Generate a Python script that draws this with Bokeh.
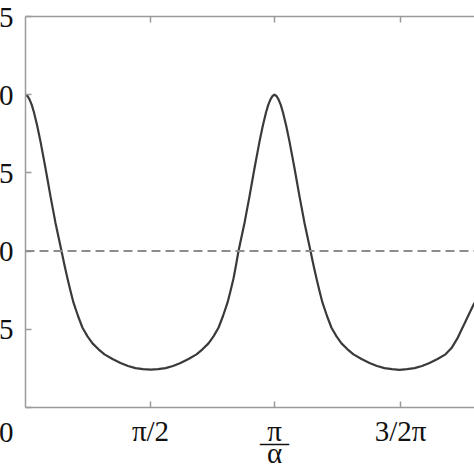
from bokeh.plotting import figure
from bokeh.models import LinearAxis, FixedTicker, Span, Range1d
from bokeh.embed import file_html
from bokeh.resources import INLINE

# curve (x in units of pi)
x_pi = [0.000, 0.008, 0.016, 0.025, 0.034, 0.047, 0.060, 0.070, 0.080, 0.090,
        0.100, 0.110, 0.120, 0.132, 0.144, 0.156, 0.168, 0.180, 0.192, 0.210,
        0.228, 0.248, 0.268, 0.292, 0.316, 0.348, 0.380, 0.410, 0.440, 0.470,
        0.500, 0.530, 0.560, 0.590, 0.620, 0.652, 0.684, 0.708, 0.732, 0.752,
        0.772, 0.790, 0.808, 0.820, 0.832, 0.842, 0.852, 0.864, 0.876, 0.886,
        0.896, 0.906, 0.916, 0.926, 0.936, 0.949, 0.962, 0.971, 0.980, 0.988,
        0.996, 1.004, 1.012, 1.021, 1.030, 1.043, 1.056, 1.066, 1.076, 1.086,
        1.096, 1.106, 1.116, 1.128, 1.140, 1.152, 1.164, 1.176, 1.188, 1.206,
        1.224, 1.244, 1.264, 1.288, 1.312, 1.344, 1.376, 1.406, 1.436, 1.466,
        1.496, 1.526, 1.556, 1.586, 1.616, 1.648, 1.680, 1.704, 1.727, 1.745,
        1.760, 1.778, 1.796]
y_val = [1.000, 0.992, 0.970, 0.935, 0.886, 0.800, 0.700, 0.615, 0.530, 0.440,
         0.350, 0.265, 0.180, 0.090, 0.000, -0.090, -0.175, -0.255, -0.330, -0.415,
         -0.490, -0.545, -0.590, -0.628, -0.660, -0.690, -0.715, -0.735, -0.748, -0.755,
         -0.758, -0.755, -0.748, -0.735, -0.715, -0.690, -0.660, -0.628, -0.590, -0.545,
         -0.490, -0.415, -0.330, -0.255, -0.175, -0.090, 0.000, 0.090, 0.180, 0.265,
         0.350, 0.440, 0.530, 0.615, 0.700, 0.800, 0.886, 0.935, 0.970, 0.992,
         1.000, 0.992, 0.970, 0.935, 0.886, 0.800, 0.700, 0.615, 0.530, 0.440,
         0.350, 0.265, 0.180, 0.090, 0.000, -0.090, -0.175, -0.255, -0.330, -0.415,
         -0.490, -0.545, -0.590, -0.628, -0.660, -0.690, -0.715, -0.735, -0.748, -0.755,
         -0.760, -0.755, -0.748, -0.735, -0.715, -0.690, -0.660, -0.620, -0.560, -0.500,
         -0.450, -0.390, -0.330]

x_ticks = [0.5, 0.996, 1.5]
x_tick_labels = {0.5: "π/2", 0.996: "π\n—\nα", 1.5: "3/2π"}
y_ticks = [-1.0, -0.5, 0.0, 0.5, 1.0, 1.5]
y_tick_labels = {-1.0: "\n\n-1.0", -0.5: "-0.5", 0.0: "0.0", 0.5: "0.5", 1.0: "1.0", 1.5: "1.5\n"}
x_min, x_max = 0.0, 1.796
y_min, y_max = -1.0, 1.5

FONT = "Liberation Serif"
FS = "29px"
AX = "#9a9a9a"

p = figure(width=519, height=474, x_range=Range1d(x_min, x_max), y_range=Range1d(y_min, y_max),
           output_backend="svg", toolbar_location=None, x_axis_type=None, y_axis_type=None,
           min_border_left=70, min_border_right=0, min_border_top=16, min_border_bottom=67)
p.margin = (0, 0, 0, -45)
p.outline_line_color = None
p.xgrid.visible = False
p.ygrid.visible = False
p.background_fill_color = "white"
p.border_fill_color = "white"

def style_axis(ax, standoff, show_labels=True):
    ax.axis_line_color = AX
    ax.axis_line_width = 1.5
    ax.major_tick_line_color = AX
    ax.major_tick_line_width = 1.5
    ax.major_tick_in = 6
    ax.major_tick_out = 0
    ax.minor_tick_line_color = None
    ax.major_label_text_font = FONT
    ax.major_label_text_font_size = FS if show_labels else "1px"
    ax.major_label_text_color = "#111111" if show_labels else None
    ax.major_label_standoff = standoff

xaxis = LinearAxis(ticker=FixedTicker(ticks=x_ticks), major_label_overrides=x_tick_labels)
style_axis(xaxis, 7)
xaxis.major_label_text_line_height = 0.35
p.add_layout(xaxis, "below")

taxis = LinearAxis(ticker=FixedTicker(ticks=x_ticks))
style_axis(taxis, 0, show_labels=False)
p.add_layout(taxis, "above")

yaxis = LinearAxis(ticker=FixedTicker(ticks=y_ticks), major_label_overrides=y_tick_labels)
style_axis(yaxis, 12)
yaxis.major_label_text_line_height = 0.75
p.add_layout(yaxis, "left")

p.add_layout(Span(location=0, dimension="width", line_color="#8c8c8c",
                  line_width=2, line_dash="9 5"))

p.line(x_pi, y_val, line_color="#3a3a3a", line_width=2.2, line_join="round")

open("out.html", "w").write(file_html(p, INLINE))
